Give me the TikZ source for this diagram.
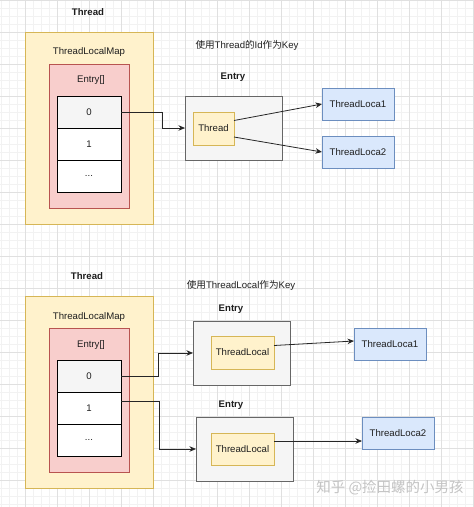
\documentclass[tikz,border=0pt]{standalone}
\usepackage{fontspec}
\setmainfont{Liberation Sans}
\newfontfamily\cjk{Noto Sans CJK SC}
\usetikzlibrary{arrows.meta}
\definecolor{yfill}{HTML}{FFF2CC}
\definecolor{ydraw}{HTML}{D6B656}
\definecolor{pfill}{HTML}{F8CECC}
\definecolor{pdraw}{HTML}{B85450}
\definecolor{gfill}{HTML}{F5F5F5}
\definecolor{gdraw}{HTML}{666666}
\definecolor{bfill}{HTML}{DAE8FC}
\definecolor{bdraw}{HTML}{6C8EBF}
\definecolor{txt}{HTML}{1E1E1E}
\definecolor{gridminor}{HTML}{F2F2F2}
\definecolor{gridmajor}{HTML}{E0E0E0}
\definecolor{wmark}{HTML}{C4C4C4}
\begin{document}
\begin{tikzpicture}[x=1pt,y=-1pt,
  shapebox/.style={draw, anchor=north west, inner sep=0pt, outer sep=0pt, line width=0.8pt,
    font=\fontsize{9.6}{11}\selectfont, text=txt},
  yellowbox/.style={shapebox, fill=yfill, draw=ydraw},
  pinkbox/.style={shapebox, fill=pfill, draw=pdraw},
  graybox/.style={shapebox, fill=gfill, draw=gdraw},
  bluebox/.style={shapebox, fill=bfill, draw=bdraw, minimum width=72pt, minimum height=32pt},
  cellbox/.style={shapebox, draw=black, fill=white, minimum width=64pt, minimum height=32pt},
  lbl/.style={font=\fontsize{9.6}{11}\selectfont, text=txt, inner sep=0pt},
  blbl/.style={font=\fontsize{9.6}{11}\selectfont\bfseries, text=txt, inner sep=0pt},
  arr/.style={-{Stealth[length=6.5pt,width=5.5pt]}, line width=0.8pt, draw=black!85}
]
\useasboundingbox (0,0) rectangle (474,507);
\fill[white] (0,0) rectangle (474,507);
% grid
\foreach \x in {1,9,...,473} \draw[gridminor, line width=0.5pt] (\x,0) -- (\x,507);
\foreach \y in {0,8,...,507} \draw[gridminor, line width=0.5pt] (0,\y) -- (474,\y);
\foreach \x in {25,57,...,473} \draw[gridmajor, line width=0.6pt] (\x,0) -- (\x,507);
\foreach \y in {0,32,...,507} \draw[gridmajor, line width=0.6pt] (0,\y) -- (474,\y);

% ---------- top ----------
\node[blbl] (tTitle) at (88,12) {Thread};
\node[yellowbox, minimum width=128pt, minimum height=192pt] (tThread) at (25,32) {};
\node[lbl] (tMapLbl) at (89,52) {ThreadLocalMap};
\node[pinkbox, minimum width=80pt, minimum height=144pt] (tArr) at (49,64) {};
\node[lbl] (tArrLbl) at (91,80) {Entry[]};
\node[cellbox, fill=gfill] (a0) at (57,96) {0};
\node[cellbox] (a1) at (57,128) {1};
\node[cellbox] (a2) at (57,160) {...};

\node[lbl] (tNote) at (247,45) {{\cjk 使用}Thread{\cjk 的}Id{\cjk 作为}Key};
\node[blbl] (tEntryLbl) at (233,77) {Entry};
\node[graybox, minimum width=97pt, minimum height=64pt] (eA) at (185,96) {};
\node[yellowbox, minimum width=41pt, minimum height=33pt] (thA) at (193,112) {Thread};
\node[bluebox] (tv1) at (322,88) {ThreadLoca1};
\node[bluebox] (tv2) at (322,136) {ThreadLoca2};

\draw[arr] (a0.east) -- ++(41,0) |- (eA.west);
\draw[arr] ([yshift=8pt]thA.east) -- (tv1.west);
\draw[arr] ([yshift=-8.5pt]thA.east) -- (tv2.west);

% ---------- bottom ----------
\node[blbl] (bTitle) at (87,276) {Thread};
\node[yellowbox, minimum width=128pt, minimum height=192pt] (bThread) at (25,296) {};
\node[lbl] (bMapLbl) at (89,317) {ThreadLocalMap};
\node[pinkbox, minimum width=80pt, minimum height=144pt] (bArr) at (49,328) {};
\node[lbl] (bArrLbl) at (91,345) {Entry[]};
\node[cellbox, fill=gfill] (b0) at (57,360) {0};
\node[cellbox] (b1) at (57,392) {1};
\node[cellbox] (b2) at (57,424) {...};

\node[lbl] (bNote) at (241,285) {{\cjk 使用}ThreadLocal{\cjk 作为}Key};
\node[blbl] (bEntryLbl1) at (231,309) {Entry};
\node[graybox, minimum width=97pt, minimum height=64pt] (eB1) at (193,321) {};
\node[yellowbox, minimum width=63pt, minimum height=33pt] (tlB1) at (211,336) {ThreadLocal};
\node[bluebox] (bv1) at (354,328) {ThreadLoca1};

\node[blbl] (bEntryLbl2) at (231,405) {Entry};
\node[graybox, minimum width=97pt, minimum height=64pt] (eB2) at (196,417) {};
\node[yellowbox, minimum width=63pt, minimum height=32pt] (tlB2) at (211,433) {ThreadLocal};
\node[bluebox] (bv2) at (362,417) {ThreadLoca2};

\draw[arr] (b0.east) -- ++(37,0) |- (eB1.west);
\draw[arr] ([yshift=7pt]b1.east) -- ++(38,0) |- (eB2.west);
\draw[arr] ([yshift=7pt]tlB1.east) -- ([yshift=3pt]bv1.west);
\draw[arr] ([yshift=8pt]tlB2.east) -- ([yshift=-8pt]bv2.west);

% watermark
\node[font=\cjk\fontsize{14.5}{16}\selectfont, text=wmark, inner sep=0pt] (wm) at (390,488) {知乎 @捡田螺的小男孩};
\end{tikzpicture}
\end{document}
